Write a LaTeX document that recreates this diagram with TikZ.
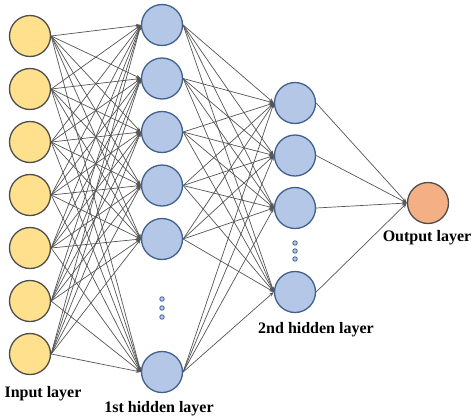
\documentclass[tikz,border=0pt]{standalone}
\usepackage{fontspec}
\setmainfont{Liberation Serif}
\usetikzlibrary{arrows.meta}

\definecolor{inputfill}{HTML}{FFE08C}
\definecolor{inputline}{HTML}{4D4D4D}
\definecolor{hiddenfill}{HTML}{B4C7E7}
\definecolor{hiddenline}{HTML}{41608F}
\definecolor{outputfill}{HTML}{F4AF84}
\definecolor{linkgray}{HTML}{555555}

\begin{document}
\begin{tikzpicture}[
    x=1pt,
    y=-1pt,
    >={Stealth[length=5pt,width=3.5pt]},
    neuron/.style={circle, line width=1.3pt, minimum size=41pt, inner sep=0pt},
    inputnode/.style={neuron, fill=inputfill, draw=inputline},
    hiddennode/.style={neuron, fill=hiddenfill, draw=hiddenline},
    outputnode/.style={neuron, fill=outputfill, draw=inputline},
    link/.style={->, draw=linkgray, line width=0.7pt},
    layername/.style={font=\bfseries\fontsize{16}{19}\selectfont},
    dotnode/.style={circle, draw=hiddenline, fill=hiddenfill, line width=0.8pt, minimum size=4.5pt, inner sep=0pt},
]

    \useasboundingbox (0,0) rectangle (474,418);

    % input layer
    \foreach \i in {1,...,7}
        \node[inputnode] (I\i) at (30, {36+53*(\i-1)}) {};

    % 1st hidden layer
    \foreach \i in {1,...,5}
        \node[hiddennode] (H\i) at (162, {25+53.5*(\i-1)}) {};
    \node[hiddennode] (H6) at (162, 372) {};

    % 2nd hidden layer
    \foreach \i in {1,2,3}
        \node[hiddennode] (G\i) at (295, {103+52.5*(\i-1)}) {};
    \node[hiddennode] (G4) at (295, 292) {};

    % output layer
    \node[outputnode] (O) at (428, 203) {};

    % dots
    \foreach \k in {0,1,2} {
        \node[dotnode] (HD\k) at (162, {299+9*\k}) {};
        \node[dotnode] (GD\k) at (295, {243+8*\k}) {};
    }

    % connections
    \foreach \i in {1,...,7}
        \foreach \j in {1,...,6}
            \draw[link] (I\i.east) -- (H\j.west);
    \foreach \i in {1,...,6}
        \foreach \j in {1,...,4}
            \draw[link] (H\i.east) -- (G\j.west);
    \foreach \i in {1,...,4}
        \draw[link] (G\i.east) -- (O.west);

    % labels
    \node[layername] (inlabel)  at (43, 394)  {Input layer};
    \node[layername] (h1label)  at (159, 409) {1st hidden layer};
    \node[layername] (h2label)  at (316, 330) {2nd hidden layer};
    \node[layername] (outlabel) at (427, 238) {Output layer};
\end{tikzpicture}
\end{document}
